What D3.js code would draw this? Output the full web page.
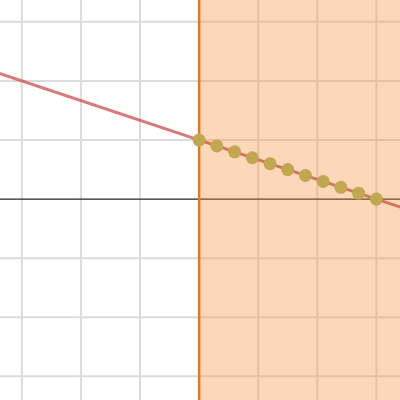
<!DOCTYPE html>
<html><head><meta charset="utf-8">
<script src="https://cdn.jsdelivr.net/npm/d3@7"></script>
<style>body{margin:0;background:#fff}</style></head>
<body><svg id="c" width="400" height="400"></svg>
<script>
var gridTicks = [-3, -2, -1, 1, 2, 3];
var pointXs = [0, 0.3, 0.6, 0.9, 1.2, 1.5, 1.8, 2.1, 2.4, 2.7, 3];
var lineXs = [-3.5, 3.5];
function f(x){ return 1 - x / 3; }

var svg = d3.select('#c');
var x = d3.scaleLinear().domain([-3.37, 3.4]).range([0, 400]);
var y = d3.scaleLinear().domain([-3.4, 3.37]).range([400, 0]);

svg.selectAll('.gx').data(gridTicks).enter().append('line')
  .attr('x1', x).attr('x2', x).attr('y1', 0).attr('y2', 400)
  .attr('stroke', '#dcdcdc').attr('stroke-width', 2);
svg.selectAll('.gy').data(gridTicks).enter().append('line')
  .attr('y1', y).attr('y2', y).attr('x1', 0).attr('x2', 400)
  .attr('stroke', '#dcdcdc').attr('stroke-width', 2);

svg.append('line').attr('x1', 0).attr('x2', 400).attr('y1', y(0)).attr('y2', y(0))
  .attr('stroke', '#222').attr('stroke-width', 1.2);

// shaded region x >= 0
svg.append('rect').attr('x', x(0)).attr('y', 0)
  .attr('width', 400 - x(0)).attr('height', 400)
  .attr('fill', '#f98c3a').attr('fill-opacity', 0.35);

var line = d3.line().x(function(d){ return x(d); }).y(function(d){ return y(f(d)); });
svg.append('path').datum(lineXs).attr('d', line)
  .attr('stroke', '#c74440').attr('stroke-opacity', 0.7).attr('stroke-width', 3).attr('fill', 'none');

svg.append('line').attr('x1', x(0)).attr('x2', x(0)).attr('y1', 0).attr('y2', 400)
  .attr('stroke', '#e0782c').attr('stroke-width', 2.5);

svg.selectAll('circle').data(pointXs).enter().append('circle')
  .attr('cx', function(d){ return x(d); }).attr('cy', function(d){ return y(f(d)); })
  .attr('r', 6.5).attr('fill', '#bfa850');
</script></body></html>
